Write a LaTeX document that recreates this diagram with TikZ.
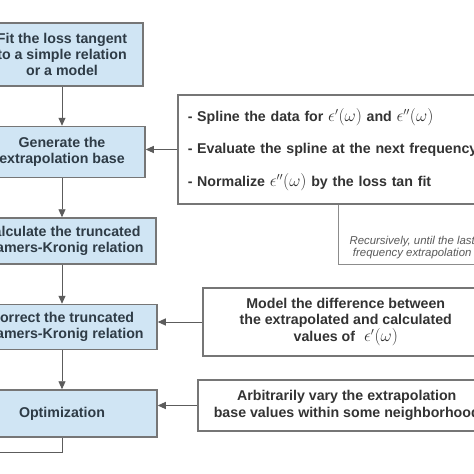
\documentclass[tikz,border=0pt]{standalone}
\usepackage{fontspec}
\setmainfont{Liberation Sans}
\usetikzlibrary{positioning}
\usetikzlibrary{arrows.meta}

\definecolor{boxfill}{HTML}{D0E5F4}
\definecolor{boxline}{HTML}{767676}
\definecolor{boxtext}{HTML}{2E3B46}
\definecolor{notetext}{HTML}{333333}
\definecolor{wire}{HTML}{5C5C5C}
\newcommand{\epsw}[1]{{\fontsize{16}{16}\selectfont$\epsilon#1(\omega)$}}

\begin{document}
\begin{tikzpicture}[x=1pt, y=1pt, node distance=39pt,
		stepbox/.style={draw=boxline, line width=1.5pt, fill=boxfill, text=boxtext, align=center,
			font=\fontsize{14.2}{16}\selectfont\bfseries, inner sep=0pt},
		notebox/.style={draw=boxline, line width=1.5pt, fill=white, text=notetext,
			font=\fontsize{14.2}{16.5}\selectfont\bfseries, inner sep=0pt},
		recnote/.style={text=black!65, align=center, font=\fontsize{11.4}{12}\selectfont\itshape, inner sep=0pt},
		flow/.style={draw=wire, line width=0.9pt, -{Triangle[length=8pt,width=7pt]}}]
			\fill[white] (0,0) rectangle (474,-474);
			\useasboundingbox (0,0) rectangle (474,-474);
			\clip (0,0) rectangle (474,-474);
			
			% columna de pasos
			\node[stepbox, minimum width=162pt, minimum height=63pt] (fit) at (62,-54.5) {Fit the loss tangent\\to a simple relation\\or a model};
			\node[stepbox, minimum width=166pt, minimum height=51pt, below=of fit] (gen) {Generate the\\extrapolation base};
			\node[stepbox, minimum width=188pt, minimum height=46pt, below=of gen] (kk) {Calculate the truncated\\Kramers-Kronig relation};
			\node[stepbox, minimum width=190pt, minimum height=45pt, below=of kk] (corr) {Correct the truncated\\Kramers-Kronig relation};
			\node[stepbox, minimum width=190pt, minimum height=47pt, below=of corr] (opt) {Optimization};
			
			% cajas de notas
			\node[notebox, anchor=west, minimum height=109pt, text width=293pt, align=left, inner xsep=10pt] (spl) at (177,-149.5)
				{- Spline the data for \epsw{'} and \epsw{''}\\[16pt]- Evaluate the spline at the next frequency\\[16pt]- Normalize \epsw{''} by the loss tan fit};
			\node[minimum width=148pt, minimum height=59pt, anchor=north west, inner sep=0pt] (rec) at ([xshift=161pt]spl.south west) {};
			\node[recnote, above=5pt of rec.south] (recinfo) {Recursively, until the last\\frequency extrapolation};
			\node[notebox, anchor=west, minimum width=286pt, minimum height=68pt, align=center] (mdl) at (202,-322)
				{Model the difference between\\the extrapolated and calculated\\values of\hspace{9pt}\epsw{'}};
			\node[notebox, anchor=west, minimum width=298pt, minimum height=51pt, align=center] (arb) at (197,-405.5)
				{Arbitrarily vary the extrapolation\\base values within some neighborhood};
			\draw[black!45, line width=0.8pt] (rec.north west) |- (rec.south east); % caja fina
			
			\draw[flow] (fit) -- (gen);
			\draw[flow] (gen) -- (kk);
			\draw[flow] (kk) -- (corr);
			\draw[flow] (corr) -- (opt);
			\draw[flow] (spl.west) -- (spl.west -| gen.east);
			\draw[flow] (mdl.west) -- (mdl.west -| corr.east);
			\draw[flow] (arb.west) -- (arb.west -| opt.east);
			\coordinate (back) at (-40,-452);
			\draw[draw=wire, line width=0.9pt] (opt.south) |- (back); % vuelta a la base
		\end{tikzpicture}
\end{document}
